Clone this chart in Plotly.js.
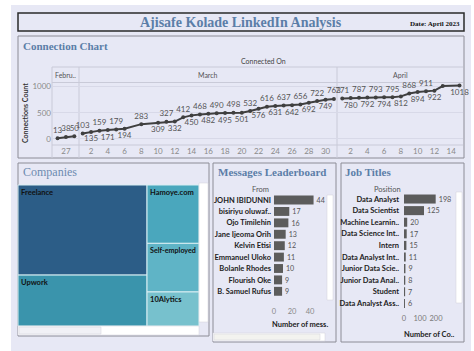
<!DOCTYPE html>
<html><head><meta charset="utf-8">
<script src="https://cdn.plot.ly/plotly-3.0.1.min.js"></script>
<style>html,body{margin:0;padding:0;background:#fff;}#chart{width:474px;height:351px;}</style>
</head><body><div id="chart"></div>
<script>
// ---- Connection chart (running total of connections) ----
const febDates = ['2023-02-26','2023-02-27','2023-02-28'];
const febCounts = [13, 38, 50];
const marDates = ['2023-03-01','2023-03-02','2023-03-03','2023-03-04','2023-03-05','2023-03-06','2023-03-08','2023-03-10','2023-03-11',
  '2023-03-12','2023-03-13','2023-03-14','2023-03-15','2023-03-16','2023-03-17','2023-03-18','2023-03-19','2023-03-20','2023-03-21',
  '2023-03-22','2023-03-23','2023-03-24','2023-03-25','2023-03-26','2023-03-27','2023-03-28','2023-03-29','2023-03-30','2023-03-31'];
const marCounts = [103,135,159,171,179,194,283,309,327,332,412,450,468,482,490,495,498,501,532,576,616,631,637,642,656,692,722,749,763];
const aprDates = ['2023-04-01','2023-04-02','2023-04-03','2023-04-04','2023-04-05','2023-04-06','2023-04-07','2023-04-08','2023-04-09',
  '2023-04-10','2023-04-11','2023-04-12','2023-04-13','2023-04-15'];
const aprCounts = [771,780,787,792,793,794,795,812,868,894,911,922,1010,1018];
const tickDates = ['2023-02-27','2023-03-02','2023-03-04','2023-03-06','2023-03-08','2023-03-10','2023-03-12','2023-03-14','2023-03-16',
  '2023-03-18','2023-03-20','2023-03-22','2023-03-24','2023-03-26','2023-03-28','2023-03-30','2023-04-02','2023-04-04','2023-04-06',
  '2023-04-08','2023-04-10','2023-04-12','2023-04-14'];
const tickText = ['27','2','4','6','8','10','12','14','16','18','20','22','24','26','28','30','2','4','6','8','10','12','14'];
const monthLabels = ['Febru..','March','April'];
const countTicks = [0, 500, 1000];

// ---- Companies ----
const companies = ['Freelance','Upwork','Hamoye.com','Self-employed','10Alytics'];
const companyCounts = [46, 26, 12, 10, 7];

// ---- Messages leaderboard ----
const senders = ['JOHN IBIDUNNI','bisiriyu oluwaf..','Ojo Timilehin','Jane Ijeoma Orih','Kelvin Etisi','Emmanuel Uloko','Bolanle Rhodes','Flourish Oke','B. Samuel Rufus'];
const messageCounts = [44, 17, 16, 13, 12, 11, 10, 9, 9];
const messageTicks = [0, 20, 40];

// ---- Job titles ----
const jobTitles = ['Data Analyst','Data Scientist','Machine Learnin..','Data Science Int..','Intern','Data Analyst Int..','Junior Data Scie..','Junior Data Anal..','Student','Data Analyst Ass..'];
const jobCounts = [198, 125, 20, 17, 15, 11, 9, 8, 7, 6];
const jobTicks = [0, 100, 200];

// ---------------- layout helpers ----------------
const W = 474, H = 351;
const fx = p => p / W;
const fy = p => 1 - p / H;
const LAV = '#e7e8f5';
const SANS = 'Lato, "Noto Sans", sans-serif';
const SERIF = '"Liberation Serif", "DejaVu Serif", serif';
const TITLEC = '#5b7ea8';

function rect(x0, y0, x1, y1, fill, line, lw, layer) {
  return {type:'rect', xref:'paper', yref:'paper', x0:fx(x0), x1:fx(x1), y0:fy(y1), y1:fy(y0),
    fillcolor: fill, line:{color: line || 'rgba(0,0,0,0)', width: lw || 0}, layer: layer || 'below'};
}
function hline(x0, x1, y, c) {
  return {type:'line', xref:'paper', yref:'paper', x0:fx(x0), x1:fx(x1), y0:fy(y), y1:fy(y), line:{color:c, width:1}, layer:'below'};
}
function vline(x, y0, y1, c) {
  return {type:'line', xref:'paper', yref:'paper', x0:fx(x), x1:fx(x), y0:fy(y0), y1:fy(y1), line:{color:c, width:1}, layer:'below'};
}
function ann(text, x, y, opts) {
  return Object.assign({text, x:fx(x), y:fy(y), xref:'paper', yref:'paper', showarrow:false,
    xanchor:'center', yanchor:'middle', font:{family:SANS, size:7, color:'#555'}}, opts || {});
}

const lineStyle = {color:'#3f3f3f', width:2};
const markerStyle = {color:'#3f3f3f', size:4};
const labelFont = {family:SANS, size:8, color:'#555'};
const alt = n => Array.from({length:n}, (_, i) => i % 2 === 0 ? 'top center' : 'bottom center');

const traces = [
  {type:'scatter', mode:'lines+markers+text', x:febDates, y:febCounts, xaxis:'x', yaxis:'y',
   text: febCounts.map(String), textposition:'top center', textfont:labelFont, line:lineStyle, marker:markerStyle, cliponaxis:false, hoverinfo:'skip'},
  {type:'scatter', mode:'lines+markers+text', x:marDates, y:marCounts, xaxis:'x', yaxis:'y',
   text: marCounts.map(String), textposition: alt(marCounts.length), textfont:labelFont, line:lineStyle, marker:markerStyle, cliponaxis:false, hoverinfo:'skip'},
  {type:'scatter', mode:'lines+markers+text', x:aprDates, y:aprCounts, xaxis:'x', yaxis:'y',
   text: aprCounts.map((v, i) => i === aprCounts.length - 2 ? '' : String(v)), textposition: alt(aprCounts.length),
   textfont:labelFont, line:lineStyle, marker:markerStyle, cliponaxis:false, hoverinfo:'skip'},
  {type:'treemap', labels:companies, parents:companies.map(() => ''), values:companyCounts,
   domain:{x:[fx(18), fx(199)], y:[fy(326), fy(185)]},
   tiling:{packing:'squarify', squarifyratio:1.618, pad:0},
   marker:{colors:['#2c5d87','#3a94ac','#4aa7bd','#5fb4c6','#77c1cd'], line:{width:1, color:'#d8eef3'}, pad:{t:0,l:0,r:0,b:0}},
   pathbar:{visible:false}, root:{color:'rgba(0,0,0,0)'}, textinfo:'label', textposition:'top left',
   textfont:{family:SANS, size:7.5, color:'#111', weight:'bold'}, hoverinfo:'skip', sort:true},
  {type:'bar', orientation:'h', x:messageCounts, y:senders, xaxis:'x2', yaxis:'y2', width:0.78,
   marker:{color:'#5c5c5c'}, text:messageCounts.map(String), textposition:'outside', textfont:labelFont, cliponaxis:false, hoverinfo:'skip'},
  {type:'bar', orientation:'h', x:jobCounts, y:jobTitles, xaxis:'x3', yaxis:'y3', width:0.78,
   marker:{color:'#5c5c5c'}, text:jobCounts.map(String), textposition:'outside', textfont:labelFont, cliponaxis:false, hoverinfo:'skip'}
];

const GL = '#c9cad8';
const shapes = [
  rect(11, 5, 471, 351, LAV),
  rect(18, 13, 464, 31, LAV, '#2a2a2a', 1.5),
  rect(18, 36, 464, 158, LAV, '#8c8c96', 1),
  rect(18, 163, 209, 336, LAV, '#8c8c96', 1),
  rect(213, 163, 336, 342, LAV, '#8c8c96', 1),
  rect(341, 163, 464, 342, LAV, '#8c8c96', 1),
  hline(52, 463, 67, GL), hline(52, 463, 82.5, GL), hline(52, 463, 145, GL),
  vline(52, 67, 158, GL), vline(79, 67, 158, GL), vline(337, 67, 158, GL),
  // scrollbars
  rect(199, 183, 208, 322, '#ffffff', '#d0d0d8', 0.5, 'above'),
  rect(18, 326, 199, 335, '#ffffff', '#d0d0d8', 0.5, 'above'),
  rect(19, 327, 101, 334, '#f1f1f6', '#d0d0d8', 0.5, 'above'),
  rect(327, 195, 333, 300, '#ffffff', '#d0d0d8', 0.5, 'above'),
  rect(213, 333, 325, 341, '#ffffff', '#d0d0d8', 0.5, 'above'),
  rect(214, 334, 320, 340, '#f3f3ef', '#d0d0d8', 0.5, 'above'),
  rect(456, 192, 462, 303, '#ffffff', '#d0d0d8', 0.5, 'above')
];

const annotations = [
  ann('Ajisafe Kolade LinkedIn Analysis', 241, 22.5, {font:{family:SERIF, size:14, color:TITLEC, weight:'bold'}}),
  ann('Date: April 2023', 462, 24, {xanchor:'right', font:{family:SERIF, size:7, color:'#111', weight:'bold'}}),
  ann('Connection Chart', 21, 45.5, {xanchor:'left', font:{family:SERIF, size:11, color:TITLEC, weight:'bold'}}),
  ann('Companies', 21, 172, {xanchor:'left', font:{family:SERIF, size:12, color:'#6d8bb0'}}),
  ann('Messages Leaderboard', 216, 172, {xanchor:'left', font:{family:SERIF, size:11, color:TITLEC, weight:'bold'}}),
  ann('Job Titles', 343, 172, {xanchor:'left', font:{family:SERIF, size:11, color:TITLEC, weight:'bold'}}),
  ann('Connected On', 263, 61, {font:{family:SANS, size:7, color:'#444'}}),
  ann(monthLabels[0], 65, 74.5, {font:{family:SANS, size:7, color:'#555'}}),
  ann(monthLabels[1], 208, 74.5, {font:{family:SANS, size:7, color:'#555'}}),
  ann(monthLabels[2], 400, 74.5, {font:{family:SANS, size:7, color:'#555'}}),
  ann('Connections Count', 25, 113, {textangle:-90, font:{family:SANS, size:7, color:'#333', weight:'bold'}}),
  ann('From', 260, 189, {font:{family:SANS, size:7.5, color:'#555'}}),
  ann('Position', 387, 189, {font:{family:SANS, size:7.5, color:'#555'}}),
  ann('Number of mess.', 299.5, 324, {font:{family:SANS, size:7.5, color:'#222', weight:'bold'}}),
  ann('Number of Co..', 429.5, 334, {font:{family:SANS, size:7.5, color:'#222', weight:'bold'}})
];

const tickGray = {family:SANS, size:8, color:'#8a8a8a'};
const tickGraySmall = {family:SANS, size:7.5, color:'#8a8a8a'};
const nameFont = {family:SANS, size:7.5, color:'#222', weight:'bold'};
const layout = {
  width:W, height:H, margin:{l:0, r:0, t:0, b:0}, paper_bgcolor:'#ffffff', plot_bgcolor:'rgba(0,0,0,0)',
  showlegend:false, font:{family:SANS},
  xaxis:{domain:[fx(52), fx(463)], anchor:'y', type:'date', range:['2023-02-25 08:00','2023-04-15 10:00'],
    tickmode:'array', tickvals:tickDates, ticktext:tickText, tickfont:tickGray, showgrid:false, zeroline:false, showline:false, ticks:'', tickangle:0},
  yaxis:{domain:[fy(145), fy(82.5)], anchor:'x', range:[-115, 1077], tickmode:'array', tickvals:countTicks,
    tickfont:tickGray, gridcolor:'#d8d9e8', zeroline:false, showline:false, ticks:''},
  xaxis2:{domain:[fx(272), fx(325)], anchor:'y2', range:[-2.2, 56.7], tickmode:'array', tickvals:messageTicks,
    tickfont:tickGraySmall, showgrid:false, zeroline:false, showline:false, ticks:'', tickangle:0},
  yaxis2:{domain:[fy(305), fy(194)], anchor:'x2', type:'category', range:[9.2, -0.53], tickfont:nameFont,
    showgrid:false, zeroline:false, showline:false, ticks:''},
  xaxis3:{domain:[fx(400), fx(455)], anchor:'y3', range:[-25, 318.75], tickmode:'array', tickvals:jobTicks,
    tickfont:{family:SANS, size:7.5, color:'#7a7a7a'}, showgrid:false, zeroline:false, showline:false, ticks:'', tickangle:0,
    ticklabeloverflow:'allow'},
  yaxis3:{domain:[fy(312), fy(193)], anchor:'x3', type:'category', range:[9.74, -0.52], tickfont:nameFont,
    showgrid:false, zeroline:false, showline:false, ticks:''},
  shapes, annotations
};

Plotly.newPlot('chart', traces, layout, {displayModeBar:false, staticPlot:true});
</script></body></html>
